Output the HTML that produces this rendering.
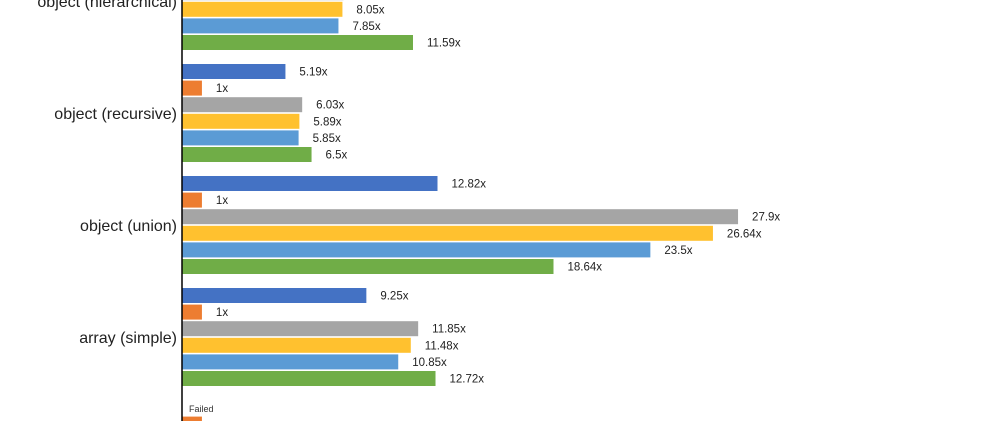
<!DOCTYPE html>
<html><head><meta charset="utf-8"><style>
html,body{margin:0;padding:0;background:#fff;width:1000px;height:421px;overflow:hidden}
svg{display:block}
svg text{font-family:"Liberation Sans","Noto Sans CJK KR",sans-serif}
</style></head><body>
<svg id="chart" width="1000" height="421" viewBox="0 0 1000 421" xmlns="http://www.w3.org/2000/svg"></svg>
<script>
const categories = ["object (hierarchical)", "object (recursive)", "object (union)", "array (simple)", "array (next)"];
const seriesA = [null, 5.19, 12.82, 9.25, null];
const seriesB = [1, 1, 1, 1, 1];
const seriesC = [8.1, 6.03, 27.9, 11.85, null];
const seriesD = [8.05, 5.89, 26.64, 11.48, null];
const seriesE = [7.85, 5.85, 23.5, 10.85, null];
const seriesF = [11.59, 6.5, 18.64, 12.72, null];
const failedFlags = [false, false, false, false, true];

const series = [seriesA, seriesB, seriesC, seriesD, seriesE, seriesF];
const colors = ["#4472C4", "#ED7D31", "#A5A5A5", "#FFC12F", "#5B9BD5", "#70AD47"];
const NS = "http://www.w3.org/2000/svg";
const svg = document.getElementById("chart");
const H = 421;
const x0 = 182, pxPerUnit = 19.93;
const xScale = v => x0 + v * pxPerUnit;
const groupTop = i => -48 + i * 112;
const barPitch = 16.6, barH = 15;

categories.forEach((cat, gi) => {
  const top = groupTop(gi);
  if (top + 55 < H) {
    const t = document.createElementNS(NS, "text");
    
    
    t.setAttribute("x", 177); t.setAttribute("y", top + 50 + 5);
    t.setAttribute("text-anchor", "end"); t.setAttribute("font-size", "16"); t.setAttribute("fill", "#222");
    t.textContent = cat; svg.appendChild(t);
  }
  series.forEach((s, si) => {
    const y = top + si * barPitch;
    if (y >= H) return;
    const v = s[gi];
    if (v === null) {
      if (si === 0 && failedFlags[gi]) {
        const f = document.createElementNS(NS, "text");
        
        
        f.setAttribute("x", 189); f.setAttribute("y", y + 12);
        f.setAttribute("font-size", "9"); f.setAttribute("fill", "#333");
        f.textContent = "Failed"; svg.appendChild(f);
      }
      return;
    }
    const r = document.createElementNS(NS, "rect");
    
    
    r.setAttribute("x", x0); r.setAttribute("y", y);
    r.setAttribute("width", xScale(v) - x0); r.setAttribute("height", Math.min(barH, H - y));
    r.setAttribute("fill", colors[si]);
    svg.appendChild(r);
    if (y + 11.5 < H) {
      const l = document.createElementNS(NS, "text");
      
      
      l.setAttribute("x", xScale(v) + 14); l.setAttribute("y", y + 11.5);
      l.setAttribute("font-size", "11.5"); l.setAttribute("fill", "#222");
      l.textContent = v + "x"; svg.appendChild(l);
    }
  });
});
const ax = document.createElementNS(NS, "line");


ax.setAttribute("x1", x0); ax.setAttribute("x2", x0); ax.setAttribute("y1", 0); ax.setAttribute("y2", H);
ax.setAttribute("stroke", "#000"); ax.setAttribute("stroke-width", "1.5");
svg.appendChild(ax);
</script>
</body></html>
